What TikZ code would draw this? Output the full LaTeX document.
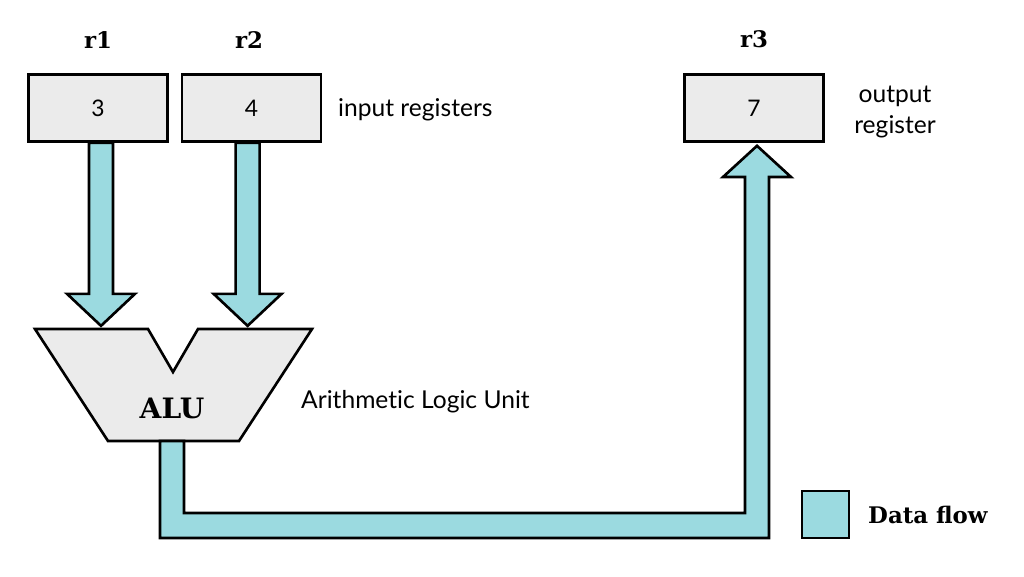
\documentclass[tikz,border=0pt]{standalone}
\usepackage{fontspec}
\setmainfont{Lato}[Ligatures=NoCommon]
\newfontfamily\slabfont{DejaVu Serif}
\usetikzlibrary{positioning,calc}

\definecolor{regfill}{HTML}{EBEBEB}
\definecolor{flowfill}{HTML}{9BDAE0}

\tikzset{
  register/.style={draw, line width=1.5pt, fill=regfill,
    minimum width=2.78cm, minimum height=1.34cm,
    font=\fontsize{13}{15}\selectfont},
  regname/.style={font=\slabfont\bfseries\fontsize{13}{15}\selectfont},
  note/.style={font=\fontsize{14}{17.5}\selectfont, align=center},
  flow/.style={draw, line width=1.5pt, fill=flowfill, line join=miter},
  alubody/.style={draw, line width=1.5pt, fill=regfill, line join=miter}
}

\begin{document}
\begin{tikzpicture}[x=0.02cm, y=-0.02cm]
      \useasboundingbox (0,0) rectangle (1024,576);
      % registers
      \node[register] (r1) at (98,108) {3};
      \node[register, right=0.24cm of r1] (r2) {4};
      \node[register] (r3) at (754,108) {7};
      \node[regname] (r1name) at (98,40) {r1};
      \node[regname] (r2name) at (249,40) {r2};
      \node[regname] (r3name) at (754,39) {r3};
      \node[note, anchor=west] (inlabel) at (332,110) {input registers};
      \node[note] (outlabel) at (895,112) {output\\register};
      % ALU
      \draw[alubody] (35,329) -- (148,329) -- (173,372) -- (198,329)
        -- (312,329) -- (239,441) -- (108,441) -- cycle;
      \node[regname, font=\slabfont\bfseries\fontsize{16}{18}\selectfont]
        (alu) at (172,408) {ALU};
      \node[note, anchor=west] (alulabel) at (295,402) {Arithmetic Logic Unit};
      % r1 -> ALU
      \draw[flow] ($(r1.south)+(-9,0)$) -- ++(0,151) -- ++(-22,0)
        -- ++(34,32) -- ++(34,-32) -- ++(-22,0) -- ++(0,-151) -- cycle;
      % r2 -> ALU
      \draw[flow] ($(r2.south)+(-16,0)$) -- ++(0,151) -- ++(-22,0)
        -- ++(34,32) -- ++(34,-32) -- ++(-22,0) -- ++(0,-151) -- cycle;
      % ALU -> r3
      \draw[flow] (160,441) -- (160,538) -- (769,538) -- (769,177)
        -- (791,177) -- ($(r3.south)+(3,3)$) -- (723,177) -- (745,177)
        -- (745,513) -- (184,513) -- (184,441) -- cycle;
      % legend
      \node[flow, minimum size=0.94cm, inner sep=0pt] (key) at (825.5,514.5) {};
      \node[regname, anchor=west] (keylabel) at (862,515) {Data flow};
    \end{tikzpicture}
\end{document}
